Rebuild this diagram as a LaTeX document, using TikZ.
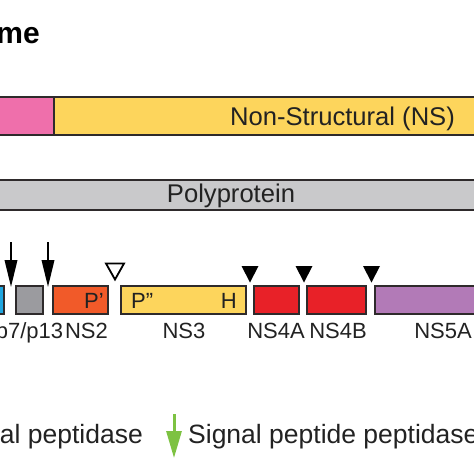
\documentclass[tikz,border=0pt]{standalone}
\usepackage{fontspec}
\setmainfont{Liberation Sans}
\usetikzlibrary{arrows.meta}
\definecolor{edge}{HTML}{2E2A2B}
\definecolor{txt}{HTML}{222222}
\definecolor{cpink}{HTML}{EF6FAB}
\definecolor{cyel}{HTML}{FDD55C}
\definecolor{cgreybar}{HTML}{C9C9CB}
\definecolor{cblue}{HTML}{1FA6E0}
\definecolor{cgreybox}{HTML}{9B9B9F}
\definecolor{corange}{HTML}{F15A29}
\definecolor{cred}{HTML}{E82128}
\definecolor{cpurple}{HTML}{B27AB7}
\definecolor{cgreen}{HTML}{7DC242}
\begin{document}
\begin{tikzpicture}[x=1pt,y=-1pt,
  seg/.style={draw=edge, line width=1.4pt, inner sep=0pt, outer sep=0pt, anchor=north west},
  bigtxt/.style={text=txt, inner sep=0pt, anchor=base, font=\fontsize{25.6}{30}\selectfont},
  legtxt/.style={text=txt, inner sep=0pt, anchor=base, font=\fontsize{26.5}{31}\selectfont},
  labtxt/.style={text=txt, inner sep=0pt, anchor=base, font=\fontsize{22}{26}\selectfont},
  boxtxt/.style={text=txt, inner sep=0pt, anchor=base, font=\fontsize{22}{26}\selectfont},
  cutarrow/.style={draw=black, line width=2pt, -{Triangle[length=27pt,width=12.5pt]}},
  sppArrow/.style={draw=cgreen, line width=3pt, -{Triangle[length=27pt,width=15pt]}},
  ntri/.pic={\fill[black] (-8.5,0) -- (8.5,0) -- (0,16.5) -- cycle;},
  otri/.pic={\draw[black, line width=1.8pt, fill=white, line join=miter] (-9,0) -- (9,0) -- (0,16) -- cycle;}
]
\useasboundingbox (0,0) rectangle (474,474);
\clip (0,0) rectangle (474,474);

% title
\node[text=black, inner sep=0pt, anchor=base east, font=\fontsize{30}{34}\selectfont\bfseries] (title) at (40,43) {me};

% genome bar
\node[seg, fill=cpink, minimum width=59pt, minimum height=38pt] (struct) at (-5,97) {};
\node[seg, fill=cyel, minimum width=430pt, minimum height=38pt] (nonstruct) at (54,97) {};
\node[bigtxt] (nslab) at (342.5,125) {Non-Structural (NS)};

% polyprotein bar
\node[seg, fill=cgreybar, minimum width=490pt, minimum height=30pt] (poly) at (-5,180) {};
\node[bigtxt] (polylab) at (231,202) {Polyprotein};

% protein boxes
\node[seg, fill=cblue, minimum width=9pt, minimum height=28pt] (e2) at (-5,286) {};
\node[seg, fill=cgreybox, minimum width=27pt, minimum height=28pt] (p7) at (16,286) {};
\node[seg, fill=corange, minimum width=55pt, minimum height=28pt] (ns2) at (53,286) {};
\node[seg, fill=cyel, minimum width=125pt, minimum height=28pt] (ns3) at (121,286) {};
\node[seg, fill=cred, minimum width=45pt, minimum height=28pt] (ns4a) at (254,286) {};
\node[seg, fill=cred, minimum width=59pt, minimum height=28pt] (ns4b) at (307,286) {};
\node[seg, fill=cpurple, minimum width=110pt, minimum height=28pt] (ns5a) at (375,286) {};

% in-box texts
\node[boxtxt, anchor=base east] (pprime) at (104,308) {P’};
\node[boxtxt, anchor=base west] (pdprime) at (131,308) {P”};
\node[boxtxt, anchor=base east] (hel) at (237,308) {H};

% labels below
\node[labtxt] (lp7) at (29.5,338) {p7/p13};
\node[labtxt] (lns2) at (86.5,338) {NS2};
\node[labtxt] (lns3) at (184,338) {NS3};
\node[labtxt] (lns4a) at (276,338) {NS4A};
\node[labtxt] (lns4b) at (338,338) {NS4B};
\node[labtxt] (lns5a) at (443,338) {NS5A};

% signal peptidase arrows
\coordinate (a1s) at (11,242);
\coordinate (a1e) at (11,287);
\coordinate (a2s) at (48,242);
\coordinate (a2e) at (48,287);
\draw[cutarrow] (a1s) -- (a1e);
\draw[cutarrow] (a2s) -- (a2e);

% protease sites
\pic at (115,263.5) {otri};
\pic at (250,266) {ntri};
\pic at (304,266) {ntri};
\pic at (371.5,266) {ntri};

% legend
\node[legtxt, anchor=base east] (legsp) at (143,443) {nal peptidase};
\coordinate (g1s) at (174,414);
\coordinate (g1e) at (174,458);
\draw[sppArrow] (g1s) -- (g1e);
\node[legtxt, anchor=base west] (legspp) at (188,443) {Signal peptide peptidase};
\end{tikzpicture}
\end{document}
